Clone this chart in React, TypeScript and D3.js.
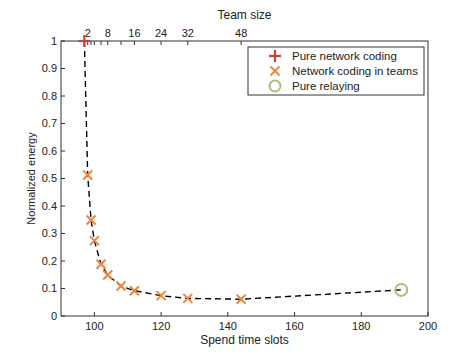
import React from "react";
import * as d3 from "d3";

const pureNC = { x: 97, y: 1 };
const teamX = [98, 99, 100, 102, 104, 108, 112, 120, 128, 144];
const teamY = [0.513, 0.349, 0.274, 0.188, 0.149, 0.109, 0.092, 0.074, 0.064, 0.061];
const relay = { x: 192, y: 0.095 };
const xTicks = [100, 120, 140, 160, 180, 200];
const yTicks = [0, 0.1, 0.2, 0.3, 0.4, 0.5, 0.6, 0.7, 0.8, 0.9, 1];
const teamSizes = [2, 3, 4, 6, 8, 12, 16, 24, 32, 48];
const teamLabeled = [2, 8, 16, 24, 32, 48];
const legendLabels = ["Pure network coding", "Network coding in teams", "Pure relaying"];

const W = 474, H = 355;
const L = 61, R = 428, T = 41, B = 316;
const font = "'Liberation Sans', Arial, sans-serif";
const RED = "#c9413a", ORANGE = "#f0863a", GREEN = "#a9bd7a";

export default function App() {
  const x = d3.scaleLinear().domain([90, 200]).range([L, R]);
  const y = d3.scaleLinear().domain([0, 1]).range([B, T]);
  const pts: [number, number][] = [
    [pureNC.x, pureNC.y],
    ...teamX.map((v, i) => [v, teamY[i]] as [number, number]),
    [relay.x, relay.y],
  ];
  const line = d3.line<[number, number]>().x(d => x(d[0])).y(d => y(d[1]));
  const cross = (cx: number, cy: number, s: number, color: string, key?: any) => (
    <g key={key} stroke={color} strokeWidth={2}>
      <line x1={cx - s} y1={cy - s} x2={cx + s} y2={cy + s} />
      <line x1={cx - s} y1={cy + s} x2={cx + s} y2={cy - s} />
    </g>
  );
  const plus = (cx: number, cy: number, s: number) => (
    <g stroke={RED} strokeWidth={2.2}>
      <line x1={cx - s} y1={cy} x2={cx + s} y2={cy} />
      <line x1={cx} y1={cy - s} x2={cx} y2={cy + s} />
    </g>
  );
  const legY = [56, 71, 86];
  return (
    <svg width={W} height={H} style={{ position: "absolute", left: 0, top: 0 }} fontFamily={font}>
      <rect x={0} y={0} width={W} height={H} fill="#fff" />
      <rect x={L} y={T} width={R - L} height={B - T} fill="none" stroke="#333" strokeWidth={1} />
      {yTicks.map(t => (
        <g key={"y" + t}>
          <line x1={L} x2={L + 4} y1={y(t)} y2={y(t)} stroke="#333" />
          <text x={L - 4} y={y(t)} dy="0.35em" textAnchor="end" fontSize={11} fill="#222">{t}</text>
        </g>
      ))}
      {xTicks.map(t => (
        <g key={"x" + t}>
          <line x1={x(t)} x2={x(t)} y1={B} y2={B - 4} stroke="#333" />
          <text x={x(t)} y={B + 14} textAnchor="middle" fontSize={11} fill="#222">{t}</text>
        </g>
      ))}
      {teamSizes.map(t => (
        <line key={"t" + t} x1={x(96 + t)} x2={x(96 + t)} y1={T} y2={T + 4} stroke="#333" />
      ))}
      {teamLabeled.map(t => (
        <text key={"tl" + t} x={x(96 + t)} y={T - 4} textAnchor="middle" fontSize={11} fill="#222">{t}</text>
      ))}
      <text x={(L + R) / 2} y={19} textAnchor="middle" fontSize={12} fill="#222">Team size</text>
      <text x={(L + R) / 2} y={344} textAnchor="middle" fontSize={12} fill="#222">Spend time slots</text>
      <text transform={`translate(35,${(T + B) / 2}) rotate(-90)`} textAnchor="middle" fontSize={11} fill="#222">Normalized energy</text>
      <path d={line(pts) || ""} fill="none" stroke="#000" strokeWidth={1.4} strokeDasharray="6,4" />
      {teamX.map((v, i) => cross(x(v), y(teamY[i]), 4.5, ORANGE, i))}
      {plus(x(pureNC.x), y(pureNC.y), 6)}
      <circle cx={x(relay.x)} cy={y(relay.y)} r={6} fill="none" stroke={GREEN} strokeWidth={2} />
      <rect x={248} y={47} width={176} height={48} fill="#fff" stroke="#333" strokeWidth={1} />
      {plus(275, legY[0], 6)}
      {cross(275, legY[1], 4.5, ORANGE)}
      <circle cx={275} cy={legY[2]} r={5.5} fill="none" stroke={GREEN} strokeWidth={2} />
      {legendLabels.map((l, i) => (
        <text key={l} x={292} y={legY[i]} dy="0.35em" fontSize={11.5} fill="#222">{l}</text>
      ))}
    </svg>
  );
}
